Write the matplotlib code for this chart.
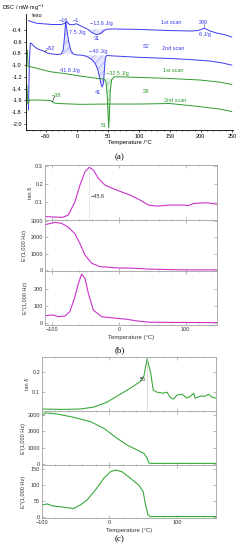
import numpy as np
import matplotlib
matplotlib.use('Agg')
import matplotlib.pyplot as plt
from matplotlib.ticker import MultipleLocator

plt.rcParams['font.family'] = ['Liberation Sans', 'DejaVu Sans']
plt.rcParams['hatch.linewidth'] = 0.35

# ---- (a) DSC curves ----
s2_first_T = [-78, -65, -40, -25, -20, -16, -12, -6, -1, 5, 12, 18, 24, 31, 36, 40, 44, 48,
              60, 100, 150, 185, 195, 206, 215, 225, 240, 250]
s2_first_v = [-0.241, -0.285, -0.306, -0.306, -0.289, -0.255, -0.306, -0.31, -0.294, -0.323,
              -0.357, -0.39, -0.443, -0.477, -0.47, -0.45, -0.41, -0.386,
              -0.383, -0.39, -0.41, -0.417, -0.41, -0.371, -0.417, -0.45, -0.485, -0.52]

s2_second_T = [-78, -76.5, -75, -73, -70, -63, -56, -52, -48, -40, -30, -25, -22, -20, -18,
               -16, -13, -10, -6, 0, 10, 18, 25, 30, 34, 37, 39, 41, 43, 44.5, 46, 48,
               60, 100, 150, 175, 215, 235, 250]
s2_second_v = [-1.767, -0.913, -0.622, -0.63, -0.673, -0.725, -0.75, -0.768, -0.793, -0.81,
               -0.819, -0.81, -0.742, -0.537, -0.263, -0.4, -0.605, -0.742, -0.81, -0.827,
               -0.832, -0.862, -0.913, -0.98, -1.084, -1.22, -1.323, -1.374, -1.306, -1.084,
               -0.879, -0.836, -0.844, -0.867, -0.887, -0.9, -0.93, -0.964, -1.0]

s6_first_T = [-80, -78.5, -76, -60, -43, -20, 5, 32, 44, 47, 49, 50.5, 51.5, 52.5, 54, 56,
              60, 70, 100, 145, 199, 230, 250]
s6_first_v = [-0.742, -1.027, -1.024, -1.067, -1.113, -1.144, -1.186, -1.226, -1.238, -1.29,
              -1.51, -1.853, -2.075, -1.853, -1.46, -1.255, -1.2, -1.2, -1.21, -1.226,
              -1.255, -1.29, -1.33]

s6_second_T = [-80.5, -79, -76.5, -60, -43, -40, -36, -30, 5, 50, 100, 150, 199, 230, 250]
s6_second_v = [-1.34, -1.665, -1.597, -1.597, -1.605, -1.622, -1.648, -1.656, -1.67, -1.665,
               -1.665, -1.656, -1.71, -1.75, -1.793]

# ---- (b) DMA, magenta ----
b_tan_T = [-111, -84, -76, -66, -58.6, -51, -44.6, -38.5, -31, -21, -3.5, 16.5, 31.6, 44,
           56.6, 76.7, 96.7, 104, 112, 132, 147]
b_tan_v = [0.016, 0.012, 0.025, 0.1, 0.193, 0.268, 0.293, 0.278, 0.231, 0.193, 0.165, 0.137,
           0.109, 0.081, 0.075, 0.081, 0.081, 0.078, 0.09, 0.094, 0.085]
b_e1_T = [-111, -96, -86, -76, -66, -58.6, -51, -41, -28.6, -3.5, 21.5, 46.6, 96.7, 147]
b_e1_v = [2768, 2905, 2845, 2607, 2214, 1619, 923, 429, 226, 149, 131, 71, 30, 30]
b_e2_T = [-111, -98.8, -91, -81, -73.7, -66, -61, -56, -51, -46, -38.6, -26, -3.5, 11.6,
          26.6, 46.6, 147]
b_e2_v = [43, 47, 37, 41, 67, 155, 233, 288, 262, 175, 76, 37, 27, 22, 12, 4, 2]
b_peak = -45.6

# ---- (c) DMA, green ----
c_tan_T = [-99, -67.6, -43, -23, -3.4, 16, 31, 46, 48.5, 51, 56, 61, 65, 70.6, 80, 85.5, 90,
           95, 100, 107.7, 115, 120, 125, 127, 135, 142, 147, 152, 158]
c_tan_v = [0.015, 0.013, 0.015, 0.025, 0.05, 0.09, 0.12, 0.155, 0.17, 0.18, 0.27, 0.2, 0.11,
           0.1, 0.095, 0.1, 0.075, 0.065, 0.085, 0.09, 0.07, 0.08, 0.095, 0.07, 0.08, 0.08,
           0.09, 0.075, 0.07]
c_e1_T = [-99, -95, -77.5, -53, -28, -8.4, 11.4, 26, 41, 51, 56, 58, 60.7, 158]
c_e1_v = [3000, 3140, 3067, 2863, 2597, 2188, 1575, 1166, 859, 654, 350, 80, 40, 40]
c_e2_T = [-99, -92, -85, -67.6, -53, -43, -33, -20.7, -8.4, 1.5, 8.9, 18.8, 31, 43.5, 50,
          53, 57, 60.7, 158]
c_e2_v = [38.6, 41.7, 35.5, 31.4, 27.3, 38.6, 54, 85, 121, 141, 146.6, 141, 121, 100, 80,
          44, 8, 2.5, 2.5]
c_peak = 56

W, H = 241, 550
blue = '#3c3cf0'
green = '#2f9a2f'
magenta = '#c832c8'
green2 = '#3aaa3a'
frame = '#a0a0a0'


def px_axes(fig, left, top, right, bottom):
    return fig.add_axes([left / W, 1 - bottom / H, (right - left) / W, (bottom - top) / H])


fig = plt.figure(figsize=(W / 100, H / 100), dpi=100)

# ================= (a) =================
ax = px_axes(fig, 26, 13.6, 233, 129.5)
ax.set_xlim(-82, 252)
ax.set_ylim(-2.1, -0.12)
for sp in ['top', 'right']:
    ax.spines[sp].set_visible(False)
for sp in ['left', 'bottom']:
    ax.spines[sp].set_linewidth(0.6)
ax.xaxis.set_major_locator(MultipleLocator(50))
ax.xaxis.set_minor_locator(MultipleLocator(10))
ax.set_yticks(np.arange(-2.0, -0.39, 0.2))
ax.set_yticklabels(['%.1f' % t for t in np.arange(-2.0, -0.39, 0.2)])
ax.tick_params(labelsize=4, length=1.5, width=0.5, pad=1.5)
ax.tick_params(which='minor', length=1, width=0.4)
ax.set_xlabel('Temperature /°C', fontsize=4.3, labelpad=1)

ax.plot(s2_first_T, s2_first_v, color=blue, lw=0.7)
ax.plot(s2_second_T, s2_second_v, color=blue, lw=0.7)
ax.plot(s6_first_T, s6_first_v, color=green, lw=0.7)
ax.plot(s6_second_T, s6_second_v, color=green, lw=0.7)


def hatch_area(T, v, t0, t1, color, face):
    tt = np.linspace(t0, t1, 80)
    cv = np.interp(tt, T, v)
    base = np.interp(tt, [t0, t1], [np.interp(t0, T, v), np.interp(t1, T, v)])
    ax.fill_between(tt, cv, base, facecolor=face, edgecolor=color, hatch='////', lw=0)


hatch_area(s2_first_T, s2_first_v, -21, -11, '#8c8cf0', '#e4e4fa')
hatch_area(s2_first_T, s2_first_v, 18, 48, '#8c8cf0', '#e4e4fa')
hatch_area(s2_second_T, s2_second_v, -25, -6, '#8c8cf0', '#e4e4fa')
hatch_area(s2_second_T, s2_second_v, 10, 48, '#8c8cf0', '#e4e4fa')
hatch_area(s6_first_T, s6_first_v, 40, 58, '#80c080', '#e0f0e0')

fs = 4
blue_texts = [('−16', -21, -0.246), ('−1', -1, -0.246), ('−12.6 J/g', 39, -0.297),
              ('7.5 J/g', 1.3, -0.451), ('31', 32.7, -0.537), ('1st scan', 152, -0.275),
              ('206', 204, -0.275), ('6 J/g', 207, -0.485), ('−52', -43, -0.716),
              ('S2', 112, -0.69), ('2nd scan', 156, -0.713), ('41.6 J/g', -11, -1.084),
              ('−40 J/g', 35, -0.776), ('41', 33.5, -1.472)]
for s, x, y in blue_texts:
    ax.text(x, y, s, color=blue, fontsize=fs, ha='center', va='center')
green_texts = [('−32.5 J/g', 65, -1.14), ('1st scan', 156, -1.1), ('S6', 112.6, -1.455),
               ('2nd scan', 159, -1.597), ('−38', -32, -1.511), ('51', 43, -2.04)]
for s, x, y in green_texts:
    ax.text(x, y, s, color=green, fontsize=fs, ha='center', va='center')
ax.text(-65, -0.144, '↑exo', fontsize=fs, ha='center', va='center')
ax.plot([-48, -52], [-0.74, -0.77], color='black', lw=0.4)
ax.plot([-36, -39], [-1.54, -1.62], color='black', lw=0.4)
ax.plot([206, 206], [-0.3, -0.37], color=blue, lw=0.4)

fig.text(2 / W, 1 - 8 / H, 'DSC / mW·mg$^{-1}$', fontsize=4, ha='left', va='center')
fig.text(120 / W, 1 - 157 / H, '(a)', fontsize=6.5, family='Liberation Serif',
         ha='center', va='center')


# ================= (b) and (c) =================
def dma_axes(left, top, right, bottom, xlim, ylim, yticks, ylab, labx, bottom_axis):
    a = px_axes(fig, left, top, right, bottom)
    a.set_xlim(*xlim)
    a.set_ylim(*ylim)
    for sp in a.spines.values():
        sp.set_color(frame)
        sp.set_linewidth(0.6)
    a.set_xticks([-100, 0, 100])
    a.xaxis.set_minor_locator(MultipleLocator(20))
    a.set_yticks(yticks)
    a.tick_params(direction='in', top=True, right=True, which='both', labelsize=4,
                  color=frame, length=2, width=0.5, pad=1.5, labelcolor='#333333')
    a.tick_params(which='minor', length=1)
    if not bottom_axis:
        a.tick_params(labelbottom=False)
    a.set_ylabel(ylab, fontsize=4, color='#333333')
    a.yaxis.set_label_coords(labx, 0.5)
    return a


bx = (-111, 147)
a1 = dma_axes(45, 165, 217, 220, bx, (-0.003, 0.306), [0.1, 0.2, 0.3], 'tan δ', -0.07, False)
a1.plot(b_tan_T, b_tan_v, color=magenta, lw=0.8)
a1.plot([b_peak, b_peak], [0, 0.295], color='#999999', lw=0.4, ls=':')
a1.text(b_peak + 3, 0.13, '−45.6', fontsize=4, color='#333333', va='center')

a2 = dma_axes(45, 220, 217, 271, bx, (-40, 3050), [0, 1000, 2000, 3000], "E'(1,000 Hz)",
              -0.105, False)
a2.plot(b_e1_T, b_e1_v, color=magenta, lw=0.8)

a3 = dma_axes(45, 271, 217, 325, bx, (-12, 306), [0, 100, 200], "E''(1,000 Hz)", -0.1, True)
a3.plot(b_e2_T, b_e2_v, color=magenta, lw=0.8)
a3.set_xlabel('Temperature (°C)', fontsize=4.3, color='#333333', labelpad=2)
fig.text(120 / W, 1 - 350 / H, '(b)', fontsize=6.5, family='Liberation Serif',
         ha='center', va='center')

cx = (-99.5, 158)
c1 = dma_axes(42, 357, 216, 411, cx, (0.005, 0.278), [0.1, 0.2], 'tan δ', -0.07, False)
c1.plot(c_tan_T, c_tan_v, color=green2, lw=0.8)
c1.plot([c_peak, c_peak], [0.005, 0.27], color='#cccccc', lw=0.5)
c1.text(c_peak - 2, 0.165, '56', fontsize=4, color='#333333', ha='right', va='center')

c2 = dma_axes(42, 411, 216, 465, cx, (-60, 3250), [0, 1000, 2000, 3000], "E'(1,000 Hz)",
              -0.09, False)
c2.plot(c_e1_T, c_e1_v, color=green2, lw=0.8)

c3 = dma_axes(42, 465, 216, 518, cx, (-2, 162), [0, 50, 100, 150], "E''(1,000 Hz)", -0.09, True)
c3.plot(c_e2_T, c_e2_v, color=green2, lw=0.8)
c3.set_xlabel('Temperature (°C)', fontsize=4.3, color='#333333', labelpad=2)
fig.text(120 / W, 1 - 539 / H, '(c)', fontsize=6.5, family='Liberation Serif',
         ha='center', va='center')

fig.savefig('out.png', dpi=100)
